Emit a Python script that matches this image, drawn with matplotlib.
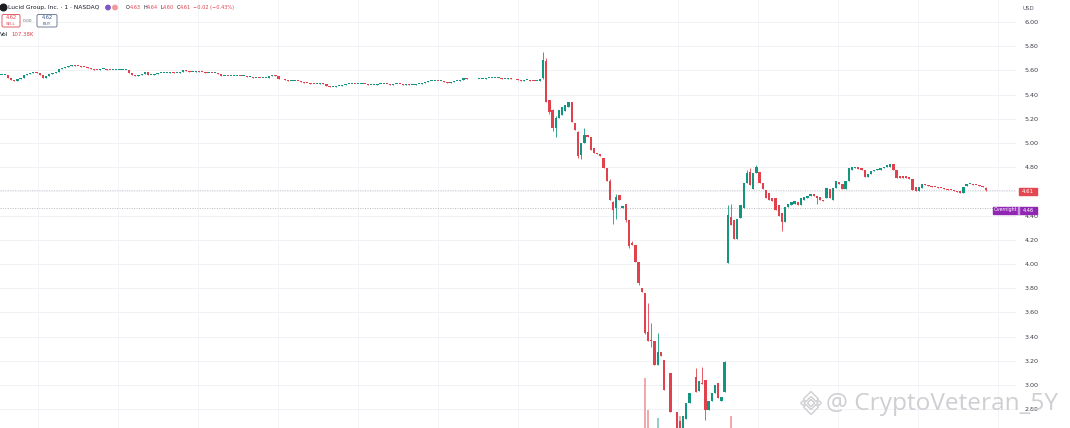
import numpy as np
import matplotlib
matplotlib.use("Agg")
import matplotlib.pyplot as plt
from matplotlib.patches import Polygon, Rectangle, Circle, FancyBboxPatch
from matplotlib.transforms import IdentityTransform

nan = float("nan")

# ---------------- data (1-minute LCID candles) ----------------
# quiet first part: closes only (open = previous close)
flat_close = [
    5.56, 5.56, 5.54, 5.52, 5.51, 5.53, 5.54, 5.56, 5.57, 5.58,
    5.59, 5.58, 5.56, 5.54, 5.55, 5.57, 5.58, 5.59, 5.61, 5.62,
    5.63, 5.64, 5.645, 5.64, 5.635, 5.63, 5.625, 5.62, 5.61, 5.605,
    5.60, 5.61, 5.61, 5.605, 5.60, 5.60, 5.60, 5.60, 5.60, 5.60,
    5.58, 5.56, 5.55, 5.56, 5.57, 5.585, 5.56, 5.565, 5.57, 5.575,
    5.58, 5.58, 5.58, 5.585, 5.58, 5.58, 5.59, 5.60, 5.595, 5.59,
    5.59, 5.595, 5.59, 5.585, 5.58, 5.58, 5.575, 5.575, 5.57, 5.555,
    5.555, 5.55, 5.55, 5.55, 5.555, 5.55, 5.55, 5.545, 5.545, 5.54,
    5.54, 5.535, 5.535, 5.54, 5.55, 5.56, 5.555, 5.53, 5.525, 5.52,
    5.515, 5.515, 5.515, 5.51, 5.505, 5.50, 5.495, 5.49, 5.485, 5.49,
    5.495, 5.485, 5.475, 5.465, 5.465, 5.47, 5.475, 5.48, 5.485, 5.49,
    5.49, 5.485, 5.49, 5.49, 5.485, 5.48, 5.48, 5.48, 5.485, 5.485,
    5.49, 5.485, 5.48, 5.485, 5.49, 5.485, 5.48, 5.485, 5.48, 5.48,
    5.485, 5.49, 5.50, 5.505, 5.51, 5.515, 5.515, 5.51, 5.51, 5.505,
    5.50, 5.505, 5.51, 5.515, 5.52, 5.535, 5.53, 5.525, 5.525, 5.53,
    5.53, 5.53, 5.535, 5.535, 5.535, 5.535, 5.535, 5.53, 5.53, 5.535,
    5.53, 5.525, 5.52, 5.515, 5.52, 5.52, 5.515, 5.51, 5.515, 5.53,
]

# volatile part (candles 170 .. 309)
move_open = [
    5.54, 5.68, 5.355, 5.27, 5.12, 5.21, 5.23, 5.265, 5.30, 5.34,
    5.165, 5.09, 4.90, 5.00, 5.07, 5.05, 4.96, 4.915, 4.905, 4.875,
    4.79, 4.69, 4.515, 4.46, 4.57, 4.46, 4.50, 4.365, 4.17, 4.16,
    4.02, 3.80, 3.76, 3.44, 3.37, 3.36, 3.165, 3.27, 3.205, nan,
    3.10, nan, 2.78, 2.70, 2.62, 2.72, 2.85, nan, 3.07, 2.95,
    3.02, 3.04, 2.79, 2.87, 2.93, 3.02, 2.87, 2.94, 4.01, 4.39,
    4.36, 4.21, 4.38, 4.46, 4.67, 4.76, 4.62, 4.75, 4.76, 4.67,
    4.61, 4.59, 4.545, 4.545, 4.49, 4.42, 4.35, 4.47, 4.49, 4.50,
    4.51, 4.49, 4.53, 4.545, 4.56, 4.575, 4.565, 4.55, 4.53, 4.545,
    4.62, 4.53, 4.63, 4.68, 4.66, 4.62, 4.69, 4.78, 4.795, 4.80,
    4.79, 4.78, 4.72, 4.745, 4.765, 4.775, 4.78, 4.79, 4.80, 4.80,
    4.825, 4.78, 4.73, 4.725, 4.725, 4.72, 4.705, 4.64, 4.605, 4.63,
    4.66, 4.655, 4.645, 4.64, 4.635, 4.63, 4.625, 4.62, 4.615, 4.61,
    4.605, 4.60, 4.59, 4.645, 4.66, 4.665, 4.655, 4.65, 4.645, 4.63,
]
move_close = [
    5.69, 5.34, 5.26, 5.12, 5.21, 5.27, 5.30, 5.31, 5.34, 5.175,
    5.11, 4.89, 5.00, 5.07, 5.05, 4.94, 4.92, 4.905, 4.895, 4.79,
    4.69, 4.53, 4.45, 4.555, 4.53, 4.48, 4.365, 4.145, 4.16, 4.02,
    3.84, 3.77, 3.43, 3.36, 3.36, 3.165, 3.275, 3.24, 2.96, nan,
    2.78, nan, 2.60, 2.64, 2.74, 2.85, 2.93, nan, 2.945, 3.03,
    3.01, 2.79, 2.87, 2.93, 3.00, 2.89, 2.90, 3.19, 4.405, 4.32,
    4.21, 4.37, 4.49, 4.67, 4.75, 4.65, 4.75, 4.80, 4.67, 4.62,
    4.545, 4.53, 4.52, 4.45, 4.40, 4.35, 4.47, 4.50, 4.51, 4.52,
    4.49, 4.545, 4.55, 4.565, 4.575, 4.56, 4.545, 4.53, 4.52, 4.63,
    4.545, 4.63, 4.69, 4.66, 4.62, 4.69, 4.79, 4.80, 4.805, 4.785,
    4.78, 4.72, 4.745, 4.765, 4.78, 4.785, 4.795, 4.80, 4.815, 4.825,
    4.78, 4.71, 4.71, 4.71, 4.71, 4.70, 4.61, 4.60, 4.64, 4.66,
    4.655, 4.645, 4.64, 4.635, 4.63, 4.625, 4.62, 4.615, 4.61, 4.60,
    4.595, 4.59, 4.64, 4.665, 4.665, 4.655, 4.65, 4.645, 4.635, 4.61,
]
# wicks beyond the body (candle index -> price)
wick_high = {170: 5.755, 171: 5.70, 173: 5.28, 174: 5.22, 181: 5.10, 183: 5.125,
             191: 4.70, 192: 4.52, 193: 4.58, 198: 4.19, 203: 3.675, 204: 3.51,
             206: 3.427, 218: 3.14, 220: 3.15, 227: 3.20, 228: 4.49, 229: 4.50,
             234: 4.78, 235: 4.79, 237: 4.82, 309: 4.64}
wick_low = {170: 5.53, 172: 5.24, 173: 5.10, 174: 5.05, 181: 4.88, 182: 4.87,
            192: 4.33, 193: 4.37, 196: 4.35, 197: 4.13, 200: 3.83, 202: 3.42,
            204: 3.31, 221: 2.71, 245: 4.27, 256: 4.50, 309: 4.60}
# visible volume spikes (thousand shares)
volume = {202: 1250, 203: 450, 206: 250, 212: 375, 213: 300, 229: 300}

last_price = 4.61
overnight_price = 4.46
price_ticks = [2.8, 3.0, 3.2, 3.4, 3.6, 3.8, 4.0, 4.2, 4.4, 4.6, 4.8, 5.0, 5.2, 5.4, 5.6, 5.8, 6.0]
header_ohlc = [("O", "4.63"), ("H", "4.64"), ("L", "4.60"), ("C", "4.61")]
header_change = "−0.02 (−0.43%)"

# ---------------- build ----------------
closes = np.array(flat_close + move_close, dtype=float)
opens = np.array([flat_close[0]] + flat_close[:-1] + move_open, dtype=float)
highs = np.fmax(opens, closes)
lows = np.fmin(opens, closes)
for k, v in wick_high.items():
    highs[k] = v
for k, v in wick_low.items():
    lows[k] = v
n = len(closes)
xs = np.arange(n)

UP = "#129680"
DN = "#e0414d"

W, H = 1070, 428
fig = plt.figure(figsize=(W / 100, H / 100), dpi=100)
fig.patch.set_facecolor("white")
plot_w = 1016
ax = fig.add_axes([0, 0, plot_w / W, 1])
ax.set_facecolor("white")

step = (543 - 1.5) / 170.0
ax.set_xlim(-1.5 / step, (plot_w - 1.5) / step)
ax.set_ylim(6.0 - 406 / 121.0, 6.0 + 22 / 121.0)

valid = ~np.isnan(closes)
up = valid & (closes >= opens)
colors = np.where(up, UP, DN)

ax.vlines(xs[valid], lows[valid], highs[valid], colors=colors[valid], lw=0.6, zorder=3)
body_h = np.abs(closes - opens)
body_h = np.where(body_h < 0.008, 0.008, body_h)
ax.bar(xs[valid], body_h[valid], bottom=np.fmin(opens, closes)[valid], width=0.72,
       color=colors[valid], linewidth=0, zorder=4)

# volume overlay
axv = ax.twinx()
axv.set_ylim(0, 428 * 25)
axv.set_xlim(ax.get_xlim())
vx = list(volume.keys())
vcol = [UP if closes[i] >= opens[i] else DN for i in vx]
axv.bar(vx, list(volume.values()), width=0.72, color=vcol, alpha=0.45, linewidth=0, zorder=1)
axv.axis("off")

# grid
for p in price_ticks:
    ax.axhline(p, color="#f0f2f6", lw=0.7, zorder=0)
for xp in range(38, plot_w, 80):
    ax.axvline((xp - 1.5) / step, color="#f3f4f7", lw=0.7, zorder=0)

# price lines
ax.axhline(last_price, color="#c9c9cf", lw=0.7, ls=(0, (1, 1.5)), zorder=2)
ax.axhline(overnight_price, color="#b9b9c2", lw=0.7, ls=(0, (1, 1.5)), zorder=2)

for s in ax.spines.values():
    s.set_visible(False)
ax.set_xticks([])
ax.yaxis.tick_right()
ax.set_yticks(price_ticks)
# the 4.60 label sits under the last-price tag
ax.set_yticklabels(["" if abs(p - last_price) < 0.05 else f"{p:.2f}" for p in price_ticks])
ax.tick_params(axis="y", length=0, pad=6, labelsize=4.6, labelcolor="#3c3f47")


def px(x, y):
    return x / W, 1 - y / H


def T(x, y, s, **kw):
    kw.setdefault("fontsize", 4)
    kw.setdefault("va", "center")
    return fig.text(*px(x, y), s, **kw)


renderer = fig.canvas.get_renderer()


def T_seq(x, y, parts, gap=0.0, **kw):
    """Place (text, colour) parts one after another, returns end x in pixels."""
    for s, c in parts:
        t = T(x, y, s, color=c, **kw)
        bb = t.get_window_extent(renderer)
        x = bb.x1 + gap
    return x


RED = "#e0414d"
DARK = "#131722"

# header
fig.add_artist(Circle((3.5, H - 7.5), 3.3, transform=IdentityTransform(), color="#1c1d22"))
T(8.5, 7.5, "Lucid Group, Inc. · 1 · NASDAQ", color=DARK, fontsize=4.3)
fig.add_artist(Circle((108, H - 7.5), 2.2, transform=IdentityTransform(), color="#7e57c2"))
fig.add_artist(Circle((115, H - 7.5), 2.2, transform=IdentityTransform(), color="#ef9a9a"))
xh = 126
for lab, val in header_ohlc:
    xh = T_seq(xh, 7.5, [(lab, DARK), (val, RED)], fontsize=3.6)
    xh += 2.2
T(xh, 7.5, header_change, color=RED, fontsize=3.6)

fig.add_artist(FancyBboxPatch((2, H - 27), 18, 12.5, boxstyle="round,pad=0,rounding_size=1.5",
                              transform=IdentityTransform(), fc="white", ec=RED, lw=0.6))
T(11, 17.5, "4.62", color=RED, fontsize=3.6, ha="center")
T(11, 23.8, "SELL", color=RED, fontsize=3.0, ha="center")
T(27.5, 21, "0.00", color="#666a73", fontsize=3.2, ha="center")
fig.add_artist(FancyBboxPatch((37, H - 27), 20, 12.5, boxstyle="round,pad=0,rounding_size=1.5",
                              transform=IdentityTransform(), fc="white", ec="#5b6b8a", lw=0.6))
T(47, 17.5, "4.62", color="#2f4f86", fontsize=3.6, ha="center")
T(47, 23.8, "BUY", color="#2f4f86", fontsize=3.0, ha="center")
T(0, 34.5, "Vol", color=DARK, fontsize=4.0)
T(11.5, 34.5, "107.38K", color=RED, fontsize=3.9)

T(1028, 8, "USD", color="#50535e", fontsize=4.0, ha="center")

# last price tag
fig.add_artist(Rectangle((1019, H - 195), 18, 7, transform=IdentityTransform(), color="#e4474f"))
T(1028, 191.3, "4.61", color="white", fontsize=3.9, ha="center")
# overnight tag
fig.add_artist(Rectangle((993, H - 213.5), 44, 7, transform=IdentityTransform(), color="#9226b4"))
T(1005.5, 210, "Overnight", color="white", fontsize=3.4, ha="center")
fig.add_artist(Rectangle((1018.3, H - 213.5), 0.6, 7, transform=IdentityTransform(), color="#c79ad8"))
T(1028, 210, "4.46", color="white", fontsize=3.7, ha="center")

# watermark (Binance-style logo + handle)
cx, cy = 811, H - 403
wm = "#cfcfd3"


def diamond(x, y, r):
    return [(x, y + r), (x + r, y), (x, y - r), (x - r, y)]


for poly in [diamond(cx, cy, 3.6), diamond(cx - 8, cy, 2.3), diamond(cx + 8, cy, 2.3),
             [(cx - 7.5, cy + 4), (cx, cy + 11.5), (cx + 7.5, cy + 4), (cx + 5, cy + 1.5),
              (cx, cy + 6.5), (cx - 5, cy + 1.5)],
             [(cx - 7.5, cy - 4), (cx, cy - 11.5), (cx + 7.5, cy - 4), (cx + 5, cy - 1.5),
              (cx, cy - 6.5), (cx - 5, cy - 1.5)]]:
    fig.add_artist(Polygon(poly, closed=True, transform=IdentityTransform(), fill=False,
                           ec=wm, lw=1.0))
fig.text(*px(826, 410.5), "@ CryptoVeteran_5Y", color=wm, fontsize=17.6, va="baseline",
         ha="left", family=["Open Sans", "DejaVu Sans"])

fig.savefig("out.png", dpi=100, facecolor="white")
